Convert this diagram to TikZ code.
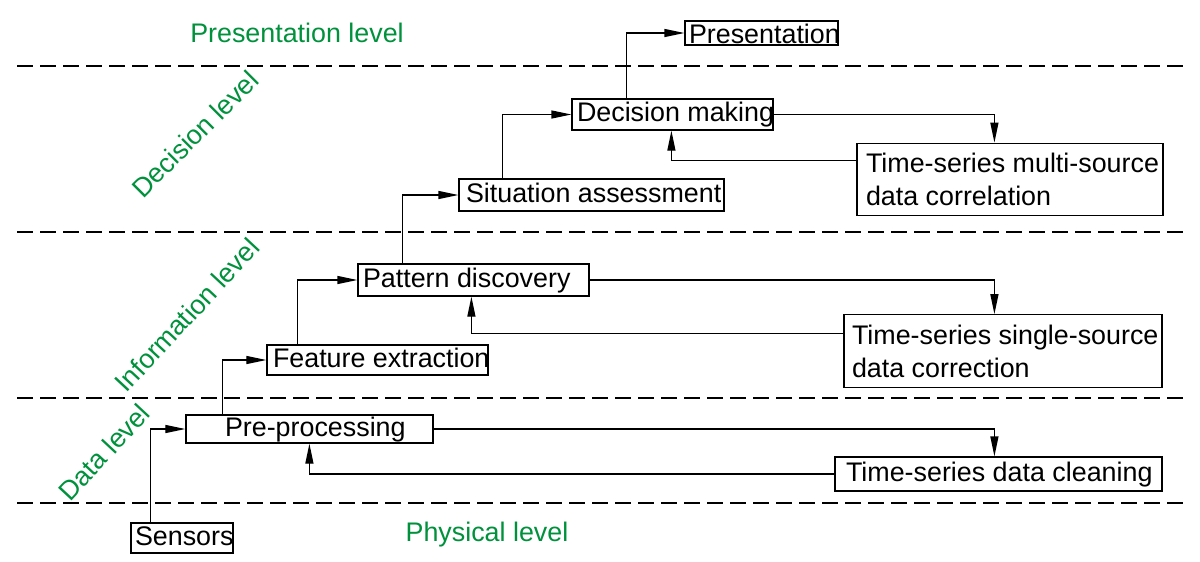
\documentclass[tikz,border=0pt]{standalone}
\usepackage{fontspec}
\setmainfont{Liberation Sans}
\usetikzlibrary{arrows.meta}
\newlength{\upx}\setlength{\upx}{0.025cm}
\newcommand{\bt}[3]{\makebox[#1\upx][l]{\hspace{#2\upx}#3}}
\definecolor{lvgreen}{RGB}{0,145,60}
\begin{document}
\begin{tikzpicture}[x=0.025cm,y=-0.025cm,
 box/.style={draw,line width=0.9pt,inner xsep=0pt,inner ysep=0pt,font=\fontsize{19.1}{23.5}\selectfont},
 one/.style={text height=0.5cm,text depth=0.15cm},
 lvl/.style={text=lvgreen,font=\fontsize{19.1}{23.5}\selectfont,inner sep=0pt},
 arr/.style={line width=0.9pt,-{Triangle[length=0.5cm,width=0.2cm]}},
 sep/.style={line width=0.9pt,dash pattern=on 0.4cm off 0.175cm}]
\useasboundingbox (0,0) rectangle (1200,561);
% level separators
\draw[sep] (17,66) -- (1190,66);
\draw[sep] (17,232) -- (1190,232);
\draw[sep] (17,398) -- (1190,398);
\draw[sep] (17,503) -- (1190,503);
% level labels
\node[lvl] (lpres) at (297,33) {Presentation level};
\node[lvl] (lphys) at (487,535) {Physical level};
\node[lvl,rotate=45] (ldec) at (195,134) {Decision level};
\node[lvl,rotate=47] (linf) at (187,315) {Information level};
\node[lvl,rotate=47] (ldata) at (104,452) {Data level};
% boxes
\node[box,one,minimum height=0.75cm] (sens) at (182,538) {\bt{102}{4}{Sensors}};
\node[box,one,minimum height=0.7cm] (pre) at (309.5,429) {\bt{247}{39}{Pre-processing}};
\node[box,one,minimum height=0.75cm] (feat) at (377.5,360) {\bt{221}{6}{Feature extraction}};
\node[box,one,minimum height=0.8cm] (pat) at (473.5,280) {\bt{231}{5}{Pattern discovery}};
\node[box,one,minimum height=0.8cm] (sit) at (591.5,195) {\bt{265}{7}{Situation assessment}};
\node[box,one,minimum height=0.775cm] (dec) at (672.5,114.5) {\bt{201}{5}{Decision making}};
\node[box,text height=0.5cm,text depth=0cm,minimum height=0.6cm] (pres) at (761.5,33) {\bt{153}{4}{Presentation}};
\node[box,minimum height=1.625cm] (multi) at (1010,179.5) {\bt{306}{9}{\begin{tabular}{@{}l@{}}\rule{0pt}{21pt}Time-series multi-source\\data correlation\end{tabular}}};
\node[box,minimum height=1.65cm] (single) at (1003,351) {\bt{318}{8}{\begin{tabular}{@{}l@{}}\rule{0pt}{21pt}Time-series single-source\\data correction\end{tabular}}};
\node[box,one,minimum height=0.85cm] (clean) at (998.5,474) {\bt{327}{11}{Time-series data cleaning}};
% connectors
\draw[arr] ([xshift=0.5cm]sens.north west) |- (pre.west);
\draw[arr] (pre.east) -| ([xshift=4cm]clean.north west);
\draw[arr] (clean.west) -| ([xshift=3.1cm]pre.south west);
\draw[arr] ([xshift=0.925cm]pre.north west) |- (feat.west);
\draw[arr] ([xshift=0.775cm]feat.north west) |- (pat.west);
\draw[arr] (pat.east) -| ([xshift=3.775cm]single.north west);
\draw[arr] ([yshift=-0.475cm]single.north west) -| ([xshift=2.85cm]pat.south west);
\draw[arr] ([xshift=1.125cm]pat.north west) |- (sit.west);
\draw[arr] ([xshift=1.1cm]sit.north west) |- (dec.west);
\draw[arr] ([xshift=1.375cm]dec.north west) |- (pres.west);
\draw[arr] (dec.east) -| ([xshift=3.45cm]multi.north west);
\draw[arr] ([yshift=-0.45cm]multi.north west) -| ([xshift=2.5cm]dec.south west);
\end{tikzpicture}
\end{document}
